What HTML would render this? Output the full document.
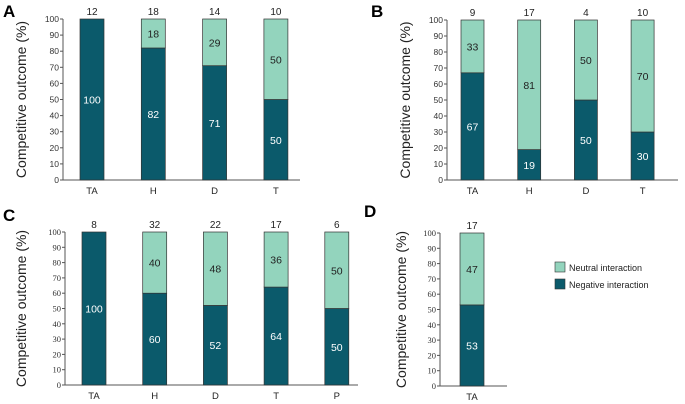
<!DOCTYPE html>
<html><head><meta charset="utf-8"><style>
body{margin:0;background:#fff;}
svg{display:block;font-family:"Liberation Sans",sans-serif;}
</style></head><body>
<svg id="fig" width="685" height="404" viewBox="0 0 685 404" xmlns="http://www.w3.org/2000/svg">
<text x="3" y="17" font-size="17" font-weight="bold">A</text>
<text x="371" y="17" font-size="17" font-weight="bold">B</text>
<text x="3" y="221" font-size="17" font-weight="bold">C</text>
<text x="364" y="217" font-size="17" font-weight="bold">D</text>
<g>
<rect x="555" y="262" width="10" height="10" fill="#93d4bd" stroke="#333" stroke-width="0.6"/>
<text x="569" y="271" font-size="9" fill="#222">Neutral interaction</text>
<rect x="555" y="279" width="10" height="10" fill="#0b5a6b" stroke="#333" stroke-width="0.6"/>
<text x="569" y="288" font-size="9" fill="#222">Negative interaction</text>
</g>
</svg>
<script>
const catsA=["TA","H","D","T"], negA=[100,82,71,50], nA=[12,18,14,10];
const catsB=["TA","H","D","T"], negB=[67,19,50,30], nB=[9,17,4,10];
const catsC=["TA","H","D","T","P"], negC=[100,60,52,64,50], nC=[8,32,22,17,6];
const catsD=["TA"], negD=[53], nD=[17];
const ticks=[0,10,20,30,40,50,60,70,80,90,100];

const NS="http://www.w3.org/2000/svg";
const svg=document.getElementById('fig');
function mk(tag,attrs,parent){const e=document.createElementNS(NS,tag);for(const k in attrs)e.setAttribute(k,attrs[k]);(parent||svg).appendChild(e);return e;}

function panel(id,cats,neg,ns,cfg){
  const g=mk('g',{});
  
  
  const y=v=>cfg.y0-(cfg.y0-cfg.y100)*v/100;
  const fam=cfg.serif?'"Liberation Serif",serif':'"Liberation Sans",sans-serif';
  const ax=mk('line',{x1:cfg.ax,y1:y(100),x2:cfg.ax,y2:y(0),stroke:'#555','stroke-width':1},g);
  
  
  const xl=mk('line',{x1:cfg.ax,y1:y(0),x2:cfg.xend,y2:y(0),stroke:'#555','stroke-width':1},g);
  
  
  ticks.forEach(t=>{
    mk('line',{x1:cfg.ax-3,y1:y(t),x2:cfg.ax,y2:y(t),stroke:'#555','stroke-width':1},g);
    const tl=mk('text',{x:cfg.ax-4,y:y(t)+3,'font-size':8.5,'text-anchor':'end',fill:'#333','font-family':fam},g);
    tl.textContent=t;
    
    
  });
  const yt=mk('text',{x:0,y:0,'font-size':14,'text-anchor':'middle',fill:'#222',transform:`translate(${cfg.titleX},${(y(0)+y(100))/2}) rotate(-90)`},g);
  yt.textContent='Competitive outcome (%)';
  
  
  cats.forEach((c,i)=>{
    const x=cfg.b0+i*cfg.step, w=cfg.bw, cx=x+w/2, v=neg[i], u=100-v;
    const r1=mk('rect',{x:x,y:y(v),width:w,height:y(0)-y(v),fill:'#0b5a6b',stroke:'#333','stroke-width':0.7},g);
    
    
    const t1=mk('text',{x:cx,y:(y(v)+y(0))/2+4,'font-size':10.5,'text-anchor':'middle',fill:'#fff'},g);
    t1.textContent=v;
    
    
    if(u>0){
      const r2=mk('rect',{x:x,y:y(100),width:w,height:y(v)-y(100),fill:'#93d4bd',stroke:'#333','stroke-width':0.7},g);
      
      
      const t2=mk('text',{x:cx,y:(y(v)+y(100))/2+4,'font-size':10.5,'text-anchor':'middle',fill:'#222'},g);
      t2.textContent=u;
      
      
    }
    const nl=mk('text',{x:cx,y:y(100)-4,'font-size':10,'text-anchor':'middle',fill:'#222'},g);
    nl.textContent=ns[i];
    
    
    const cl=mk('text',{x:cx,y:y(0)+14,'font-size':9.5,'text-anchor':'middle',fill:'#222'},g);
    cl.textContent=c;
    
    
  });
}
panel('a',catsA,negA,nA,{ax:63,xend:300,y0:180,y100:19,b0:80,step:61.3,bw:24,titleX:26});
panel('b',catsB,negB,nB,{ax:447,xend:678,y0:180,y100:20,b0:461,step:56.7,bw:23,titleX:410});
panel('c',catsC,negC,nC,{ax:65,xend:358,y0:385,y100:232,b0:82,step:60.7,bw:24,titleX:26,serif:true});
panel('d',catsD,negD,nD,{ax:440,xend:507,y0:386,y100:233,b0:460,step:60,bw:24,titleX:406,serif:true});
</script>
</body></html>
